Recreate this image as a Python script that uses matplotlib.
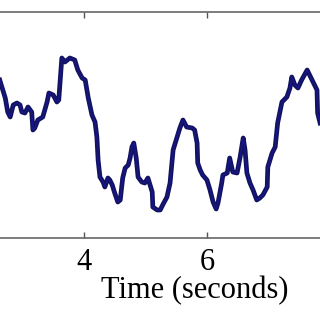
import matplotlib
matplotlib.use("Agg")
import matplotlib.pyplot as plt

# signal trace (time in seconds, amplitude)
time_s = [
    2.63, 2.68, 2.72, 2.76, 2.80, 2.85, 2.91, 2.96, 2.99, 3.04,
    3.09, 3.15, 3.17, 3.20, 3.25, 3.33, 3.40, 3.43, 3.50, 3.56,
    3.59, 3.64, 3.69, 3.77, 3.85, 3.90, 3.97, 4.02, 4.07, 4.13,
    4.18, 4.21, 4.23, 4.26, 4.31, 4.34, 4.39, 4.42, 4.46, 4.50,
    4.55, 4.59, 4.63, 4.67, 4.72, 4.75, 4.78, 4.81, 4.85, 4.88,
    4.94, 4.99, 5.04, 5.11, 5.12, 5.19, 5.24, 5.28, 5.35, 5.40,
    5.45, 5.51, 5.56, 5.61, 5.67, 5.76, 5.80, 5.84, 5.85, 5.89,
    5.93, 6.00, 6.05, 6.10, 6.15, 6.18, 6.24, 6.26, 6.33, 6.37,
    6.42, 6.49, 6.54, 6.59, 6.62, 6.65, 6.70, 6.75, 6.81, 6.86,
    6.91, 6.98, 6.99, 7.06, 7.11, 7.15, 7.22, 7.30, 7.35, 7.38,
    7.43, 7.48, 7.54, 7.63, 7.71, 7.79, 7.80, 7.84,
]
signal = [
    0.45, 0.35, 0.27, 0.13, 0.08, 0.20, 0.22, 0.20, 0.13, 0.12,
    0.18, 0.13, -0.05, -0.03, 0.05, 0.08, 0.23, 0.32, 0.30, 0.23,
    0.25, 0.67, 0.63, 0.67, 0.65, 0.55, 0.47, 0.45, 0.27, 0.10,
    0.03, -0.12, -0.35, -0.52, -0.57, -0.62, -0.53, -0.55, -0.60, -0.68,
    -0.77, -0.75, -0.53, -0.43, -0.40, -0.33, -0.22, -0.18, -0.33, -0.52,
    -0.57, -0.58, -0.53, -0.67, -0.82, -0.85, -0.85, -0.80, -0.72, -0.58,
    -0.25, -0.13, -0.03, 0.05, -0.02, -0.03, -0.05, -0.18, -0.38, -0.45,
    -0.50, -0.55, -0.65, -0.77, -0.84, -0.78, -0.58, -0.50, -0.48, -0.33,
    -0.47, -0.48, -0.32, -0.13, -0.25, -0.48, -0.58, -0.65, -0.75, -0.73,
    -0.70, -0.62, -0.42, -0.28, -0.22, 0.02, 0.23, 0.28, 0.37, 0.48,
    0.40, 0.37, 0.45, 0.55, 0.45, 0.35, 0.12, 0.02,
]
x_ticks = [2, 4, 6, 8, 10]
# only 4 and 6 are inside the cropped view
x_tick_labels = ["", "4", "6", "", ""]

plt.rcParams["font.family"] = ["Liberation Serif", "DejaVu Serif"]

fig = plt.figure(figsize=(3.2, 3.2), dpi=100)
# the reference is a crop of a wider plot, so the axes run past the figure edges
ax = fig.add_axes([-0.19875, 0.25625, 1.614, 0.70625])

ax.plot(time_s, signal, color="#12125e", lw=3.4, solid_joinstyle="round")
ax.plot(time_s, signal, color="#1a1aa8", lw=1.0, alpha=0.6)

ax.set_xlim(1.6, 10)
ax.set_ylim(-1.13, 1.13)
ax.set_xticks(x_ticks)
ax.set_xticklabels(x_tick_labels)
ax.set_yticks([])
ax.tick_params(axis="x", direction="in", top=True, length=4, width=1,
               color="#555555", labelsize=22, pad=7.5)
for sp in ax.spines.values():
    sp.set_color("#666666")
    sp.set_linewidth(1.2)

ax.set_xlabel("Time (seconds)", fontsize=22, labelpad=-1)

fig.savefig("out.png", dpi=100)
